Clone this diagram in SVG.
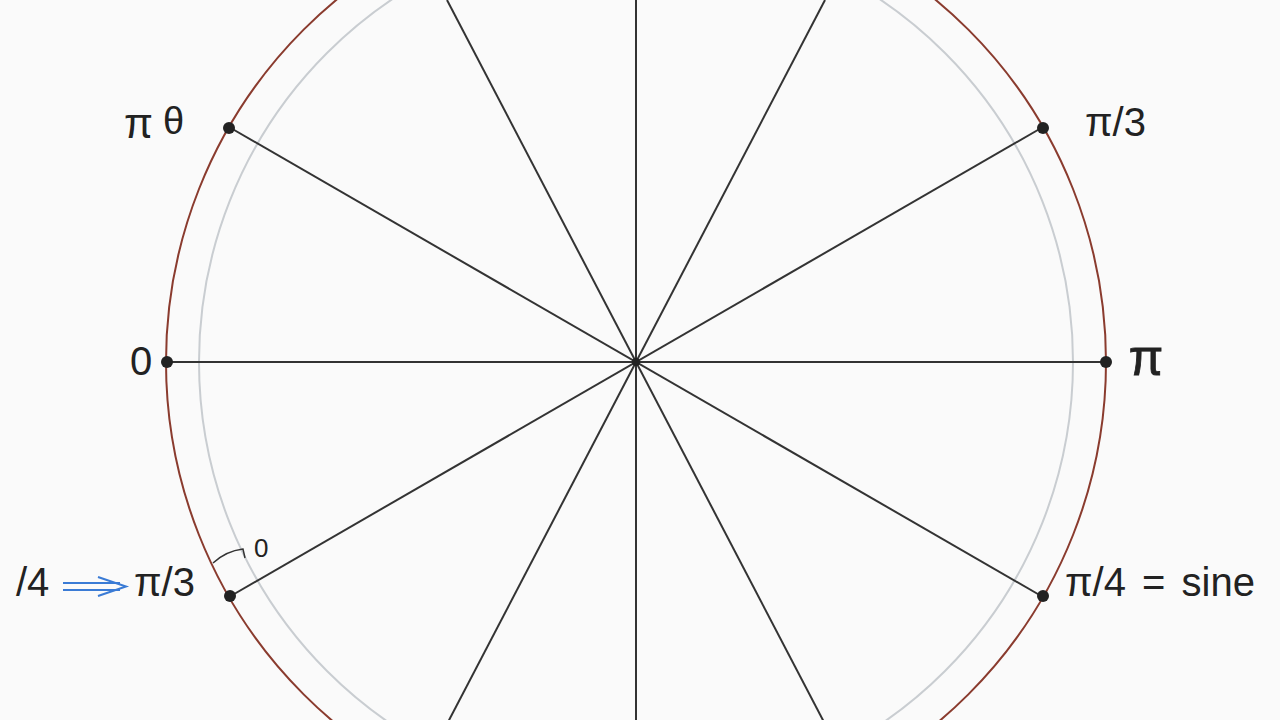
<svg xmlns="http://www.w3.org/2000/svg" width="1280" height="720" viewBox="0 0 1280 720">
<style>
.spoke{stroke:#333;stroke-width:2;fill:none}
.dot{fill:#222}
.lbl{font-family:"Liberation Sans",Arial,sans-serif;fill:#222}
</style>
<rect x="0" y="0" width="1280" height="720" fill="#fafafa"/>
<g id="circles">
<circle cx="636" cy="362" r="437" fill="none" stroke="#c9cdd1" stroke-width="2"/>
<circle cx="636" cy="362" r="470" fill="none" stroke="#8a3b2e" stroke-width="2"/>
</g>
<g id="connectors">
<line class="spoke" x1="166" y1="362" x2="1106" y2="362"/>
<line class="spoke" x1="636" y1="0" x2="636" y2="720"/>
<line class="spoke" x1="229" y1="127" x2="1043" y2="597"/>
<line class="spoke" x1="1043" y1="127" x2="229" y2="597"/>
<line class="spoke" x1="447" y1="0" x2="825" y2="724"/>
<line class="spoke" x1="825" y1="0" x2="447" y2="724"/>
<path d="M213 563 Q226 551 243 549 L245 558" fill="none" stroke="#333" stroke-width="1.5"/>
<g id="blue-arrow" stroke="#3a7bd5" stroke-width="2" fill="none">
<line x1="63" y1="583" x2="120" y2="583"/>
<line x1="63" y1="590" x2="120" y2="590"/>
<path d="M98 577 L126 586.5 L98 596"/>
</g>
</g>
<g id="center"><circle class="dot" cx="636" cy="362" r="4"/></g>
<g id="p-left"><circle class="dot" cx="167" cy="362" r="6"/><text class="lbl" x="141" y="375" font-size="40" text-anchor="middle">0</text></g>
<g id="p-right"><circle class="dot" cx="1106" cy="362" r="6"/><text class="lbl" x="1146" y="375" font-size="50" text-anchor="middle" stroke="#222" stroke-width="0.8">π</text></g>
<g id="p-tl"><circle class="dot" cx="229" cy="128" r="6"/><text class="lbl" x="124" y="138" font-size="42">π</text><text class="lbl" x="163" y="134" font-size="38">θ</text></g>
<g id="p-tr"><circle class="dot" cx="1043" cy="128" r="6"/><text class="lbl" x="1085" y="136" font-size="40">π/3</text></g>
<g id="p-bl"><circle class="dot" cx="230" cy="596" r="6"/><text class="lbl" x="16" y="596" font-size="40">/4</text><text class="lbl" x="134" y="596" font-size="40">π/3</text><text class="lbl" x="254" y="557" font-size="26">0</text></g>
<g id="p-br"><circle class="dot" cx="1043" cy="596" r="6"/><text class="lbl" x="1065" y="596" font-size="40" word-spacing="5">π/4 = sine</text></g>
</svg>
